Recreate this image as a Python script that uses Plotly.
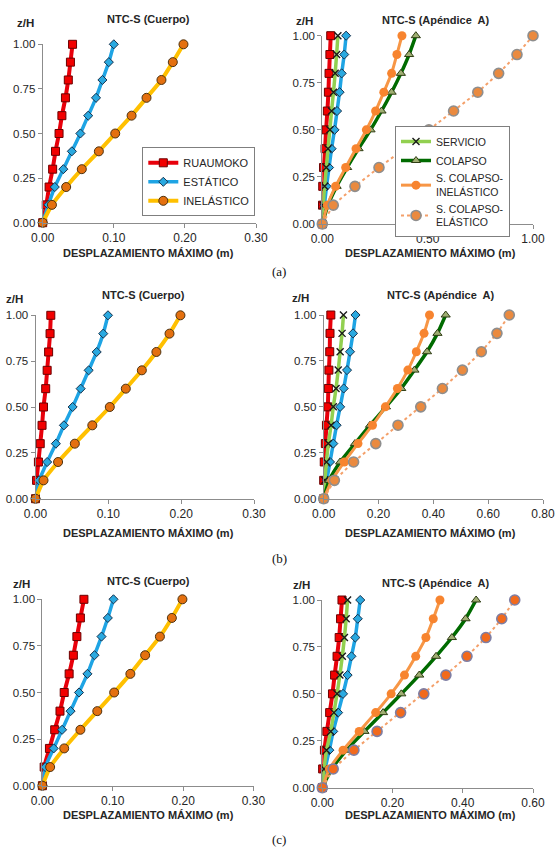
import plotly.graph_objects as go

# ---------------- DATA ----------------
zH = [0.0, 0.1, 0.2, 0.3, 0.4, 0.5, 0.6, 0.7, 0.8, 0.9, 1.0]

# (a) NTC-S (Cuerpo)
a_ruaumoko = [0, 0.005, 0.009, 0.014, 0.018, 0.023, 0.027, 0.032, 0.036, 0.039, 0.042]
a_estatico = [0, 0.008, 0.017, 0.029, 0.041, 0.053, 0.064, 0.075, 0.084, 0.093, 0.100]
a_inelastico = [0, 0.013, 0.033, 0.055, 0.079, 0.102, 0.125, 0.146, 0.167, 0.183, 0.198]
# (a) NTC-S (Apéndice A)
a2_ruaumoko = [0, 0.001, 0.002, 0.006, 0.013, 0.018, 0.024, 0.029, 0.032, 0.036, 0.040]
a2_estatico = [0, 0.010, 0.020, 0.032, 0.044, 0.058, 0.070, 0.082, 0.092, 0.104, 0.113]
a2_servicio = [0, 0.004, 0.011, 0.019, 0.027, 0.036, 0.044, 0.053, 0.061, 0.068, 0.074]
a2_colapso = [0, 0.027, 0.068, 0.118, 0.172, 0.229, 0.281, 0.329, 0.373, 0.412, 0.444]
a2_sc_inel = [0, 0.024, 0.063, 0.111, 0.160, 0.209, 0.253, 0.292, 0.329, 0.354, 0.378]
a2_sc_elas = [0, 0.052, 0.155, 0.269, 0.390, 0.506, 0.623, 0.738, 0.837, 0.924, 1.000]

# (b) NTC-S (Cuerpo)
b_ruaumoko = [0, 0.0015, 0.004, 0.0065, 0.009, 0.011, 0.014, 0.016, 0.018, 0.020, 0.021]
b_estatico = [0, 0.005, 0.016, 0.028, 0.039, 0.051, 0.062, 0.073, 0.084, 0.093, 0.0995]
b_inelastico = [0, 0.011, 0.031, 0.054, 0.078, 0.102, 0.124, 0.146, 0.166, 0.184, 0.199]
# (b) NTC-S (Apéndice A)
b2_ruaumoko = [0, 0.000, 0.002, 0.006, 0.010, 0.015, 0.017, 0.019, 0.022, 0.023, 0.026]
b2_estatico = [0, 0.011, 0.023, 0.035, 0.047, 0.060, 0.073, 0.085, 0.096, 0.107, 0.116]
b2_servicio = [0, 0.004, 0.010, 0.017, 0.027, 0.035, 0.045, 0.053, 0.060, 0.067, 0.072]
b2_colapso = [0, 0.020, 0.060, 0.114, 0.169, 0.227, 0.283, 0.331, 0.377, 0.415, 0.445]
b2_sc_inel = [0, 0.030, 0.075, 0.125, 0.178, 0.225, 0.269, 0.307, 0.338, 0.366, 0.386]
b2_sc_elas = [0, 0.039, 0.109, 0.190, 0.271, 0.354, 0.433, 0.506, 0.575, 0.632, 0.677]

# (c) NTC-S (Cuerpo)
c_ruaumoko = [0, 0.0025, 0.010, 0.0175, 0.025, 0.031, 0.038, 0.044, 0.049, 0.054, 0.059]
c_estatico = [0, 0.004, 0.016, 0.028, 0.040, 0.052, 0.064, 0.074, 0.084, 0.093, 0.101]
c_inelastico = [0, 0.011, 0.031, 0.054, 0.078, 0.102, 0.125, 0.146, 0.167, 0.184, 0.199]
# (c) NTC-S (Apéndice A)
c2_ruaumoko = [0, 0.001, 0.006, 0.013, 0.021, 0.029, 0.035, 0.042, 0.048, 0.052, 0.056]
c2_estatico = [0, 0.008, 0.020, 0.031, 0.045, 0.059, 0.072, 0.083, 0.094, 0.101, 0.108]
c2_servicio = [0, 0.005, 0.012, 0.024, 0.033, 0.042, 0.050, 0.057, 0.063, 0.068, 0.072]
c2_colapso = [0, 0.027, 0.069, 0.120, 0.173, 0.225, 0.276, 0.324, 0.369, 0.408, 0.438]
c2_sc_inel = [0, 0.020, 0.059, 0.105, 0.152, 0.196, 0.234, 0.266, 0.295, 0.316, 0.335]
c2_sc_elas = [0, 0.031, 0.090, 0.156, 0.223, 0.289, 0.352, 0.412, 0.466, 0.511, 0.548]

names_left = ["RUAUMOKO", "ESTÁTICO", "INELÁSTICO"]
names_right = ["SERVICIO", "COLAPSO", "S. COLAPSO-<br>INELÁSTICO", "S. COLAPSO-<br>ELÁSTICO"]
title_left = "NTC-S (Cuerpo)"
title_right = "NTC-S (Apéndice  A)"
x_title = "DESPLAZAMIENTO MÁXIMO (m)"
y_title = "z/H"
captions = ["(a)", "(b)", "(c)"]

# ---------------- STYLE ----------------
FONT = "Liberation Sans, Arial, sans-serif"
AX = "#8c8c8c"
TXT = "#262626"

W, H = 560, 848

def px(x):
    return x / W

def py(y):
    return 1 - y / H

# panel boxes in pixels: (x0, x1, ytop, ybottom), x range max, dtick
panels = [
    (42.7, 256.0, 44.3, 222.7, 0.30, 0.10),   # a left
    (322.3, 533.0, 35.7, 224.0, 1.00, 0.50),  # a right
    (35.5, 254.0, 315.3, 498.7, 0.30, 0.10),  # b left
    (323.7, 543.0, 315.0, 498.7, 0.80, 0.20), # b right
    (42.4, 253.5, 599.3, 785.7, 0.30, 0.10),  # c left
    (322.3, 533.0, 600.0, 787.7, 0.60, 0.20), # c right
]

fig = go.Figure()
layout = dict(
    width=W, height=H,
    margin=dict(l=0, r=0, t=0, b=0, autoexpand=False),
    paper_bgcolor="white", plot_bgcolor="white",
    font=dict(family=FONT, color=TXT, size=11),
)

for i, (x0, x1, yt, yb, xmax, dt) in enumerate(panels):
    k = "" if i == 0 else str(i + 1)
    layout["xaxis" + k] = dict(
        domain=[px(x0), px(x1)], range=[0, xmax], anchor="y" + k,
        dtick=dt, tick0=0, tickformat=".2f", showgrid=False, zeroline=False,
        showline=True, linecolor=AX, linewidth=1, ticks="outside", ticklen=4,
        tickcolor=AX, tickfont=dict(size=12, color=TXT), fixedrange=True,
        automargin=False,
    )
    layout["yaxis" + k] = dict(
        domain=[py(yb), py(yt)], range=[0, 1], anchor="x" + k,
        dtick=0.25, tick0=0, tickformat=".2f", showgrid=False, zeroline=False,
        showline=True, linecolor=AX, linewidth=1, ticks="outside", ticklen=4,
        tickcolor=AX, tickfont=dict(size=11.5, color=TXT), fixedrange=True,
        automargin=False,
    )

def add(x, k, name, line, marker, legend=None, show=False, dash="solid", width=3.5, shape="spline"):
    xa = "x" + ("" if k == 1 else str(k))
    ya = "y" + ("" if k == 1 else str(k))
    fig.add_trace(go.Scatter(
        x=x, y=zH, xaxis=xa, yaxis=ya, name=name, mode="lines+markers",
        line=dict(color=line, width=width, dash=dash, shape=shape, smoothing=0.5),
        marker=marker, cliponaxis=False, showlegend=show,
        legend=legend if legend else "legend",
    ))

RED = dict(symbol="square", size=8, color="#f20000", line=dict(color="#6b0000", width=1))
BLUE = dict(symbol="diamond", size=7, color="#2aa9e0", line=dict(color="#17324d", width=1))
ORG = dict(symbol="circle", size=9, color="#e4700f", line=dict(color="#4d3210", width=1))
SERV = dict(symbol="x-thin", size=7, color="#1a1a1a", line=dict(color="#1a1a1a", width=1.4))
COL = dict(symbol="triangle-up", size=8, color="#9fae72", line=dict(color="#2f3d14", width=1))
SCI = dict(symbol="circle", size=9, color="#f7842f", line=dict(color="#f7842f", width=0))
SCE_ab = dict(symbol="circle", size=10, color="#ea8a3f", line=dict(color="#8e8e8e", width=1.6))
SCE_c = dict(symbol="circle", size=10, color="#f26a1c", line=dict(color="#7e7ea4", width=1.6))

left_sets = [(1, a_ruaumoko, a_estatico, a_inelastico),
             (3, b_ruaumoko, b_estatico, b_inelastico),
             (5, c_ruaumoko, c_estatico, c_inelastico)]
for n, (k, r, e, ie) in enumerate(left_sets):
    show = n == 0
    add(r, k, names_left[0], "#e8000b", RED, "legend", show, width=4)
    add(e, k, names_left[1], "#1ea4e4", BLUE, "legend", show, width=3.5)
    add(ie, k, names_left[2], "#ffc000", ORG, "legend", show, width=4)

right_sets = [(2, a2_ruaumoko, a2_estatico, a2_servicio, a2_colapso, a2_sc_inel, a2_sc_elas, SCE_ab),
              (4, b2_ruaumoko, b2_estatico, b2_servicio, b2_colapso, b2_sc_inel, b2_sc_elas, SCE_ab),
              (6, c2_ruaumoko, c2_estatico, c2_servicio, c2_colapso, c2_sc_inel, c2_sc_elas, SCE_c)]
for n, (k, r, e, s, c, si, se, sem) in enumerate(right_sets):
    show = n == 0
    add(r, k, names_left[0], "#e8000b", RED, "legend2", False, width=4)
    add(e, k, names_left[1], "#1ea4e4", BLUE, "legend2", False, width=3.5)
    add(s, k, names_right[0], "#92d050", SERV, "legend2", show, width=3.5)
    add(c, k, names_right[1], "#006b00", COL, "legend2", show, width=3.5)
    add(si, k, names_right[2], "#f79646", SCI, "legend2", show, width=3)
    add(se, k, names_right[3], "#f4a06a", sem, "legend2", show, dash="dot", width=2, shape="linear")

layout["legend"] = dict(
    x=px(142.3), y=py(147.3), xanchor="left", yanchor="top",
    bgcolor="white", bordercolor="#7f7f7f", borderwidth=1,
    font=dict(family=FONT, size=11, color=TXT), itemwidth=30,
    tracegroupgap=2,
)
layout["legend2"] = dict(
    x=px(395), y=py(126), xanchor="left", yanchor="top",
    bgcolor="white", bordercolor="#7f7f7f", borderwidth=1,
    font=dict(family=FONT, size=10.5, color=TXT), itemwidth=30,
    tracegroupgap=0,
)

ann = []
titles_pos = [
    (148, 18.5, title_left, 25, 22.7), (435, 20, title_right, 304, 20.7),
    (143, 295, title_left, 14, 299), (440, 295, title_right, 300, 298),
    (148, 581, title_left, 21, 584), (435, 583, title_right, 301, 585),
]
for (tx, ty, t, zx, zy) in titles_pos:
    ann.append(dict(x=px(tx), y=py(ty), xref="paper", yref="paper", text="<b>%s</b>" % t,
                    showarrow=False, xanchor="center", yanchor="middle",
                    font=dict(family=FONT, size=11, color=TXT)))
    ann.append(dict(x=px(zx), y=py(zy), xref="paper", yref="paper", text="<b>%s</b>" % y_title,
                    showarrow=False, xanchor="center", yanchor="middle",
                    font=dict(family=FONT, size=11.5, color=TXT)))
for (tx, ty) in [(148, 253), (430, 253), (148, 533), (430, 533), (148, 815), (430, 815)]:
    ann.append(dict(x=px(tx), y=py(ty), xref="paper", yref="paper", text="<b>%s</b>" % x_title,
                    showarrow=False, xanchor="center", yanchor="middle",
                    font=dict(family=FONT, size=11, color=TXT)))
for (cap, cy) in zip(captions, [272, 558, 839]):
    ann.append(dict(x=px(279), y=py(cy), xref="paper", yref="paper", text=cap,
                    showarrow=False, xanchor="center", yanchor="middle",
                    font=dict(family="Liberation Serif, Times New Roman, serif", size=13, color="#111")))
layout["annotations"] = ann

fig.update_layout(**layout)
fig.write_html("out.html", config={"displayModeBar": False},
               post_script="document.body.style.margin='0';document.body.style.overflow='hidden';")
